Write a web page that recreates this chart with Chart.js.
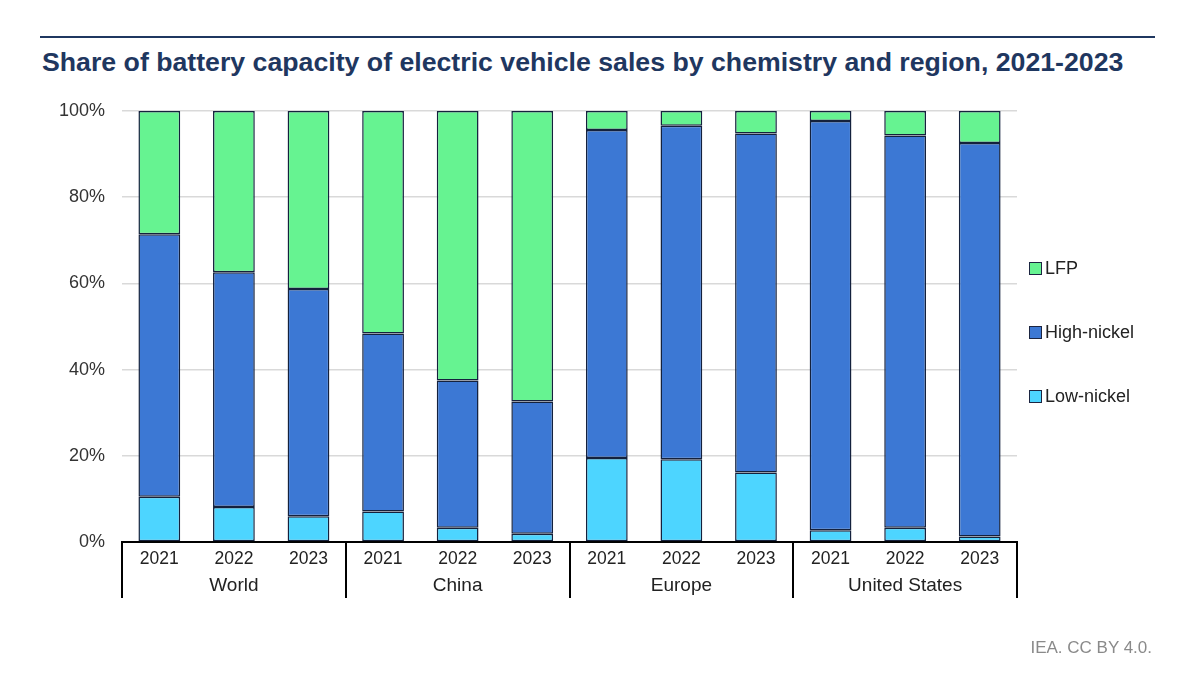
<!DOCTYPE html>
<html>
<head>
<meta charset="utf-8">
<script src="https://cdn.jsdelivr.net/npm/chart.js@4"></script>
<style>
    body { margin: 0; background: #fff; font-family: "Liberation Sans", Arial, sans-serif; }
    #wrap { position: relative; width: 1200px; height: 675px; overflow: hidden; }
    #topline { position: absolute; left: 40px; top: 36px; width: 1115px; height: 2px; background: #1f3760; }
    #title { position: absolute; left: 42px; top: 47px; font-size: 26.7px; font-weight: bold; color: #1f3760; white-space: nowrap; }
    #source { position: absolute; right: 48px; top: 638px; font-size: 17px; color: #8a8a8a; }
    #legend { position: absolute; left: 1029px; top: 0; }
    .item { position: absolute; left: 0; display: flex; align-items: center; white-space: nowrap; font-size: 18px; color: #222; }
    .box { width: 11px; height: 11px; border: 1px solid #1c2541; margin-right: 3px; }
    canvas { position: absolute; left: 0; top: 0; }
</style>
</head>
<body>
<div id="wrap">
    <div id="topline"></div>
    <div id="title">Share of battery capacity of electric vehicle sales by chemistry and region, 2021-2023</div>
    <canvas id="chart" width="1200" height="675"></canvas>
    <div id="legend"></div>
    <div id="source">IEA. CC BY 4.0.</div>
</div>
<script>
// Data (percent of battery capacity)
const years = ['2021', '2022', '2023', '2021', '2022', '2023', '2021', '2022', '2023', '2021', '2022', '2023'];
const regions = ['World', 'China', 'Europe', 'United States'];
const lowNickel = [10.5, 8.1, 6.0, 7.1, 3.3, 1.9, 19.5, 19.2, 16.1, 2.7, 3.3, 1.3];
const highNickel = [60.9, 54.5, 52.7, 41.3, 34.2, 30.7, 76.1, 77.4, 78.7, 95.0, 91.0, 91.3];
const lfp = [28.6, 37.4, 41.3, 51.6, 62.5, 67.4, 4.4, 3.4, 5.2, 2.3, 5.7, 7.4];
const yTicks = [0, 20, 40, 60, 80, 100];

const font = '"Liberation Sans", Arial, sans-serif';

// Draws the region row and the separators under the year labels
const regionAxis = {
    id: 'regionAxis',
    afterDraw(chart) {
        const ctx = chart.ctx;
        const x = chart.scales.x;
        const area = chart.chartArea;
        const per = years.length / regions.length;
        const step = x.getPixelForValue(1) - x.getPixelForValue(0);
        ctx.save();
        ctx.strokeStyle = '#000';
        ctx.lineWidth = 2;
        for (let g = 0; g <= regions.length; g++) {
            const px = Math.round(x.getPixelForValue(g * per) - step / 2);
            ctx.beginPath();
            ctx.moveTo(px, area.bottom);
            ctx.lineTo(px, area.bottom + 56);
            ctx.stroke();
        }
        ctx.fillStyle = '#222';
        ctx.font = '19px ' + font;
        ctx.textAlign = 'center';
        ctx.textBaseline = 'middle';
        regions.forEach((r, g) => {
            const cx = (x.getPixelForValue(g * per) + x.getPixelForValue(g * per + per - 1)) / 2;
            ctx.fillText(r, cx, area.bottom + 44);
        });
        ctx.restore();
    }
};

const ctx = document.getElementById('chart').getContext('2d');
const chart = new Chart(ctx, {
    type: 'bar',
    data: {
        labels: years,
        datasets: [
            { label: 'Low-nickel', data: lowNickel, backgroundColor: '#4dd5ff' },
            { label: 'High-nickel', data: highNickel, backgroundColor: '#3c78d4' },
            { label: 'LFP', data: lfp, backgroundColor: '#66f391' }
        ]
    },
    options: {
        responsive: false,
        animation: false,
        layout: { padding: { left: 42, top: 111, right: 183, bottom: 106 } },
        datasets: {
            bar: {
                borderColor: '#14213d',
                borderWidth: 1.5,
                borderSkipped: false,
                categoryPercentage: 1,
                barPercentage: 0.56
            }
        },
        scales: {
            x: {
                stacked: true,
                grid: { display: false },
                border: { color: '#000', width: 2 },
                ticks: { color: '#222', font: { family: font, size: 17.5 }, padding: -1, maxRotation: 0 }
            },
            y: {
                stacked: true,
                min: 0,
                max: 100,
                afterBuildTicks: (axis) => { axis.ticks = yTicks.map(v => ({ value: v })); },
                grid: { color: '#d9d9d9', lineWidth: 1.5, drawTicks: false },
                border: { display: false },
                ticks: {
                    color: '#333',
                    font: { family: font, size: 18 },
                    padding: 17,
                    callback: v => v + '%'
                }
            }
        },
        plugins: {
            legend: { display: false },
            tooltip: { enabled: false }
        }
    },
    plugins: [regionAxis]
});

// Legend built from the chart's own legend items, stacked top to bottom as LFP, High-nickel, Low-nickel
const legendEl = document.getElementById('legend');
const items = chart.options.plugins.legend.labels.generateLabels(chart).reverse();
const legendTops = [258, 322, 386];
items.forEach((item, i) => {
    const row = document.createElement('div');
    row.className = 'item';
    row.style.top = legendTops[i] + 'px';
    const box = document.createElement('span');
    box.className = 'box';
    box.style.background = item.fillStyle;
    row.appendChild(box);
    row.appendChild(document.createTextNode(item.text));
    legendEl.appendChild(row);
});
</script>
</body>
</html>
